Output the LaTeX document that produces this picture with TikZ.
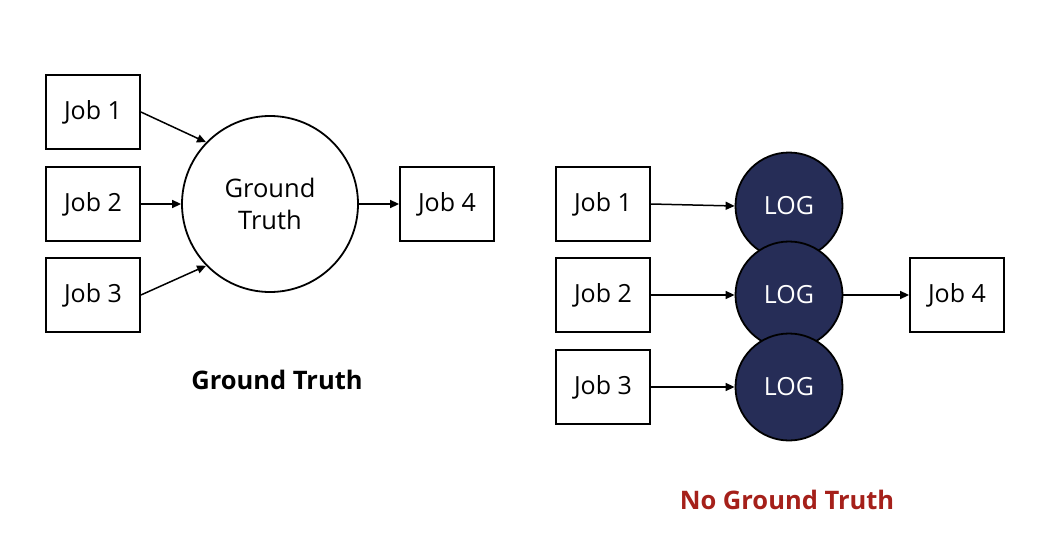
\documentclass[tikz,border=0pt]{standalone}
\usepackage{fontspec}
\setmainfont{Open Sans}
\usetikzlibrary{arrows.meta}
\definecolor{lognavy}{HTML}{262D57}
\definecolor{titlered}{HTML}{A5201A}
\tikzset{
  jobbox/.style={draw=black, line width=1.8pt, fill=white, minimum width=94pt, minimum height=74pt, inner sep=0pt, font=\fontsize{25}{28}\selectfont},
  gtcircle/.style={draw=black, line width=1.8pt, fill=white, circle, minimum size=176pt, inner sep=0pt, align=center, font=\fontsize{25.5}{32}\selectfont},
  logcircle/.style={draw=black, line width=1.8pt, fill=lognavy, circle, minimum size=107pt, inner sep=0pt, text=white, font=\fontsize{25}{28}\selectfont},
  conn/.style={line width=1.5pt, -{Triangle[length=9pt,width=8pt]}},
  caption/.style={font=\bfseries\fontsize{25.5}{30}\selectfont}
}
\begin{document}
\begin{tikzpicture}[x=1pt,y=-1pt]
\useasboundingbox (0,0) rectangle (1044,554);
% left diagram
\node[jobbox] (l1) at (93,112) {Job 1};
\node[jobbox] (l2) at (93,204) {Job 2};
\node[jobbox] (l3) at (93,295) {Job 3};
\node[gtcircle] (gt) at (270,204) {Ground\\Truth};
\node[jobbox] (l4) at (447,204) {Job 4};
\draw[conn] (l1.east) -- (gt.136);
\draw[conn] (l2.east) -- (gt.west);
\draw[conn] (l3.east) -- (gt.224);
\draw[conn] (gt.east) -- (l4.west);
\node[caption] (cap1) at (277,380) {Ground Truth};
% right diagram
\node[jobbox] (r1) at (603,204) {Job 1};
\node[jobbox] (r2) at (603,295) {Job 2};
\node[jobbox] (r3) at (603,387) {Job 3};
\node[logcircle] (g1) at (789,206) {LOG};
\node[logcircle] (g2) at (789,295) {LOG};
\node[logcircle] (g3) at (789,387) {LOG};
\node[jobbox] (r4) at (957,295) {Job 4};
\draw[conn] (r1.east) -- (g1.west);
\draw[conn] (r2.east) -- (g2.west);
\draw[conn] (r3.east) -- (g3.west);
\draw[conn] (g2.east) -- (r4.west);
\node[caption, text=titlered] (cap2) at (787,500) {No Ground Truth};
\end{tikzpicture}
\end{document}
